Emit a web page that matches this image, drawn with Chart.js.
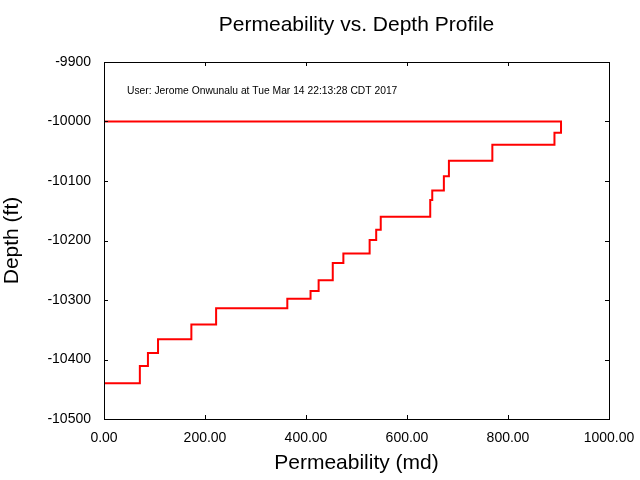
<!DOCTYPE html>
<html>
<head>
<meta charset="utf-8">
<script src="https://cdn.jsdelivr.net/npm/chart.js@4"></script>
<style>
  html, body { margin: 0; padding: 0; background: #fff; }
</style>
</head>
<body>
<canvas id="myChart" width="640" height="480"></canvas>
<script>
// layer boundaries (ft) and permeability of each layer (md)
var depths = [-10000, -10019, -10039, -10066, -10092, -10116, -10132, -10160, -10182, -10199, -10222,
              -10238, -10267, -10285, -10298, -10314, -10341, -10366, -10389, -10411, -10440];
var perms = [905, 892, 769, 683, 673, 650, 646, 548, 539, 526,
             474, 453, 425, 409, 363, 222, 173, 107, 87, 71];
var xTicks = [0, 200, 400, 600, 800, 1000];
var yTicks = [-9900, -10000, -10100, -10200, -10300, -10400, -10500];
var chartTitle = "Permeability vs. Depth Profile";
var note = "User: Jerome Onwunalu at Tue Mar 14 22:13:28 CDT 2017";

var points = [{x: 0, y: depths[0]}];
for (var i = 0; i < perms.length; i++) {
    points.push({x: perms[i], y: depths[i]});
}
points.push({x: 0, y: depths[depths.length - 1]});

var FONT = "'Liberation Sans', Arial, sans-serif";

// title, box around the plot, inward ticks and the user note
var frame = {
    id: 'frame',
    afterDraw: function (chart) {
        var ctx = chart.ctx, a = chart.chartArea;
        var xs = chart.scales.x, ys = chart.scales.y;
        ctx.save();
        ctx.strokeStyle = '#000';
        ctx.lineWidth = 1;
        ctx.strokeRect(a.left + 0.5, a.top + 0.5, a.right - a.left, a.bottom - a.top);
        ctx.beginPath();
        xTicks.forEach(function (v) {
            var px = Math.round(xs.getPixelForValue(v)) + 0.5;
            ctx.moveTo(px, a.bottom); ctx.lineTo(px, a.bottom - 4);
            ctx.moveTo(px, a.top); ctx.lineTo(px, a.top + 4);
        });
        yTicks.forEach(function (v) {
            var py = Math.round(ys.getPixelForValue(v)) + 0.5;
            ctx.moveTo(a.left, py); ctx.lineTo(a.left + 4, py);
            ctx.moveTo(a.right, py); ctx.lineTo(a.right - 4, py);
        });
        ctx.stroke();
        ctx.fillStyle = '#000';
        ctx.textBaseline = 'middle';
        ctx.textAlign = 'center';
        ctx.font = '21px ' + FONT;
        ctx.fillText(chartTitle, (a.left + a.right) / 2, 25);
        ctx.textAlign = 'left';
        ctx.font = '10.3px ' + FONT;
        ctx.fillText(note, a.left + 23, a.top + 29.5);
        ctx.restore();
    }
};

window.onload = function () {
    var ctx = document.getElementById("myChart").getContext("2d");
    new Chart(ctx, {
        type: 'scatter',
        data: {
            datasets: [{
                data: points,
                showLine: true,
                stepped: 'after',
                borderColor: '#ff0000',
                borderWidth: 2,
                pointRadius: 0,
                fill: false
            }]
        },
        options: {
            responsive: false,
            animation: false,
            layout: {padding: {left: 0, right: 31, top: 62, bottom: 0}},
            plugins: {
                legend: {display: false},
                tooltip: {enabled: false},
                title: {display: false}
            },
            scales: {
                x: {
                    type: 'linear',
                    min: 0, max: 1000,
                    afterFit: function (s) { s.height = 61; s.paddingLeft = 0; s.paddingRight = 0; },
                    grid: {display: false, drawTicks: false},
                    border: {display: false},
                    ticks: {
                        stepSize: 200, padding: 11, color: '#000', maxRotation: 0,
                        font: {family: FONT, size: 14},
                        callback: function (v) { return v.toFixed(2); }
                    },
                    title: {
                        display: true, text: 'Permeability (md)', color: '#000',
                        font: {family: FONT, size: 21}, padding: {top: 0, bottom: 4}
                    }
                },
                y: {
                    type: 'linear',
                    min: -10500, max: -9900,
                    afterFit: function (s) { s.width = 104; s.paddingTop = 0; s.paddingBottom = 0; },
                    grid: {display: false, drawTicks: false},
                    border: {display: false},
                    ticks: {
                        stepSize: 100, padding: 13, color: '#000',
                        font: {family: FONT, size: 14},
                        callback: function (v) { return String(v); }
                    },
                    title: {
                        display: true, text: 'Depth (ft)', color: '#000',
                        font: {family: FONT, size: 21}, padding: {top: 0, bottom: 0}
                    }
                }
            }
        },
        plugins: [frame]
    });
};
</script>
</body>
</html>
